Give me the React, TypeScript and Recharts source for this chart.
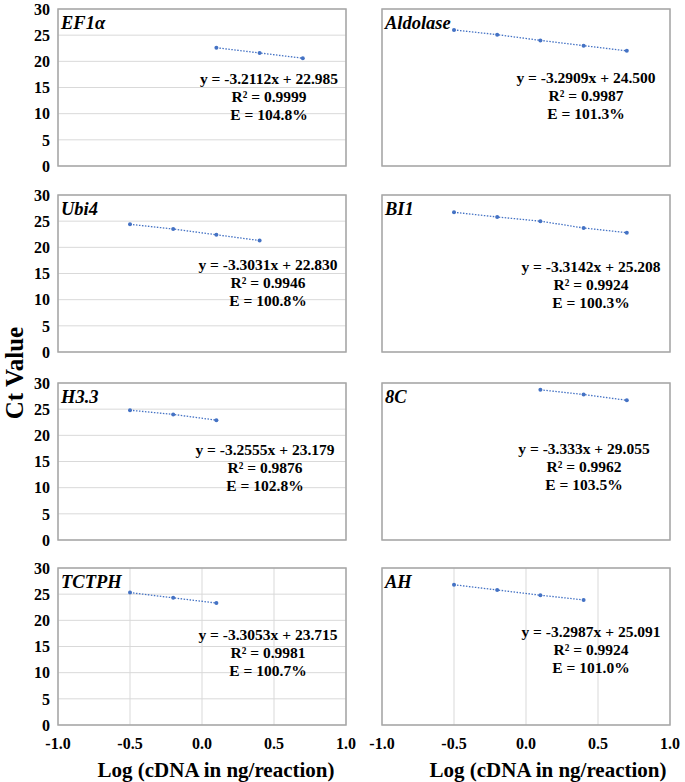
import React from "react";
import {
  LineChart,
  Line,
  XAxis,
  YAxis,
  CartesianGrid,
  ReferenceArea,
} from "recharts";

// ---------- data ----------
const xTicks = [-1, -0.5, 0, 0.5, 1];
const yTicks = [0, 5, 10, 15, 20, 25, 30];

const ef1aX = [0.1, 0.4, 0.7];
const ef1aY = [22.6, 21.6, 20.6];
const ef1aEq = ["y = -3.2112x + 22.985", "R² = 0.9999", "E = 104.8%"];

const aldolaseX = [-0.5, -0.2, 0.1, 0.4, 0.7];
const aldolaseY = [26.0, 25.1, 24.0, 23.0, 22.0];
const aldolaseEq = ["y = -3.2909x + 24.500", "R² = 0.9987", "E = 101.3%"];

const ubi4X = [-0.5, -0.2, 0.1, 0.4];
const ubi4Y = [24.4, 23.5, 22.4, 21.3];
const ubi4Eq = ["y = -3.3031x + 22.830", "R² = 0.9946", "E = 100.8%"];

const bi1X = [-0.5, -0.2, 0.1, 0.4, 0.7];
const bi1Y = [26.7, 25.8, 25.0, 23.7, 22.8];
const bi1Eq = ["y = -3.3142x + 25.208", "R² = 0.9924", "E = 100.3%"];

const h33X = [-0.5, -0.2, 0.1];
const h33Y = [24.8, 24.0, 22.9];
const h33Eq = ["y = -3.2555x + 23.179", "R² = 0.9876", "E = 102.8%"];

const c8X = [0.1, 0.4, 0.7];
const c8Y = [28.7, 27.8, 26.7];
const c8Eq = ["y = -3.333x + 29.055", "R² = 0.9962", "E = 103.5%"];

const tctphX = [-0.5, -0.2, 0.1];
const tctphY = [25.3, 24.3, 23.3];
const tctphEq = ["y = -3.3053x + 23.715", "R² = 0.9981", "E = 100.7%"];

const ahX = [-0.5, -0.2, 0.1, 0.4];
const ahY = [26.8, 25.8, 24.8, 23.9];
const ahEq = ["y = -3.2987x + 25.091", "R² = 0.9924", "E = 101.0%"];

const geneNames = ["EF1α", "Aldolase", "Ubi4", "BI1", "H3.3", "8C", "TCTPH", "AH"];
const xTitle = "Log (cDNA in ng/reaction)";
const yTitle = "Ct Value";

// ---------- layout ----------
const FONT = "'Liberation Serif', 'Times New Roman', serif";
const LINE_COLOR = "#4472C4";
const rowTops = [9, 195, 383, 568];
const rowHeights = [157, 157, 157, 157];
const LEFT_PLOT_X = 58;
const RIGHT_PLOT_X = 382;
const PLOT_W = 288;

type PanelDef = {
  name: string;
  xs: number[];
  ys: number[];
  eq: string[];
  col: 0 | 1;
  row: number;
  annX: number;
  annY: number;
};

const panels: PanelDef[] = [
  { name: geneNames[0], xs: ef1aX, ys: ef1aY, eq: ef1aEq, col: 0, row: 0, annX: 211, annY: 70 },
  { name: geneNames[1], xs: aldolaseX, ys: aldolaseY, eq: aldolaseEq, col: 1, row: 0, annX: 204, annY: 69 },
  { name: geneNames[2], xs: ubi4X, ys: ubi4Y, eq: ubi4Eq, col: 0, row: 1, annX: 210, annY: 70 },
  { name: geneNames[3], xs: bi1X, ys: bi1Y, eq: bi1Eq, col: 1, row: 1, annX: 209, annY: 72 },
  { name: geneNames[4], xs: h33X, ys: h33Y, eq: h33Eq, col: 0, row: 2, annX: 207, annY: 67 },
  { name: geneNames[5], xs: c8X, ys: c8Y, eq: c8Eq, col: 1, row: 2, annX: 202, annY: 66 },
  { name: geneNames[6], xs: tctphX, ys: tctphY, eq: tctphEq, col: 0, row: 3, annX: 210, annY: 67 },
  { name: geneNames[7], xs: ahX, ys: ahY, eq: ahEq, col: 1, row: 3, annX: 209, annY: 64 },
];

const tickStyle = { fill: "#000", fontSize: 16, fontWeight: 700, fontFamily: FONT };

function Panel({ p }: { p: PanelDef }) {
  const data = p.xs.map((x, i) => ({ x, y: p.ys[i] }));
  const isBottom = p.row === 3;
  const plotTop = rowTops[p.row];
  const plotH = rowHeights[p.row];
  const marginTop = 9;
  const axisH = isBottom ? 36 : 0;
  const chartLeft = p.col === 0 ? 0 : 350;
  const yAxisW = p.col === 0 ? LEFT_PLOT_X : RIGHT_PLOT_X - 350;
  const chartW = yAxisW + PLOT_W + 16;
  const chartH = marginTop + plotH + axisH + 10;
  const plotLeft = chartLeft + yAxisW;

  return (
    <>
      <div style={{ position: "absolute", left: chartLeft, top: plotTop - marginTop }}>
        <LineChart
          width={chartW}
          height={chartH}
          data={data}
          margin={{ top: marginTop, right: 16, left: 0, bottom: 10 }}
        >
          <CartesianGrid stroke="#d9d9d9" strokeWidth={1} />
          <XAxis
            type="number"
            dataKey="x"
            domain={[-1, 1]}
            ticks={xTicks}
            interval={0}
            allowDataOverflow
            tickFormatter={(v: number) => v.toFixed(1)}
            axisLine={false}
            tickLine={false}
            tick={isBottom ? tickStyle : false}
            tickMargin={7}
            height={axisH}
          />
          <YAxis
            type="number"
            domain={[0, 30]}
            ticks={yTicks}
            interval={0}
            allowDataOverflow
            axisLine={false}
            tickLine={false}
            tick={p.col === 0 ? tickStyle : false}
            width={yAxisW}
          />
          <ReferenceArea
            x1={-1}
            x2={1}
            y1={0}
            y2={30}
            fill="none"
            fillOpacity={0}
            stroke="#a6a6a6"
            strokeWidth={1.5}
            ifOverflow="visible"
          />
          <Line
            type="linear"
            dataKey="y"
            stroke={LINE_COLOR}
            strokeWidth={1.3}
            strokeDasharray="1.5 1.5"
            dot={{ r: 2, fill: LINE_COLOR, stroke: LINE_COLOR, strokeWidth: 0 }}
            activeDot={false}
            isAnimationActive={false}
          />
        </LineChart>
      </div>
      <div
        style={{
          position: "absolute",
          left: plotLeft + 3,
          top: plotTop + 4.5,
          fontSize: 18.5,
          lineHeight: 1,
          fontWeight: 700,
          fontStyle: "italic",
          whiteSpace: "nowrap",
        }}
      >
        {p.name}
      </div>
      {p.eq.map((t, i) => (
        <div
          key={i}
          style={{
            position: "absolute",
            left: plotLeft + p.annX,
            top: plotTop + p.annY + i * 18 - 7.8,
            transform: "translateX(-50%)",
            fontSize: 15.5,
            lineHeight: 1,
            fontWeight: 700,
            whiteSpace: "nowrap",
          }}
        >
          {t}
        </div>
      ))}
    </>
  );
}

export default function App() {
  return (
    <div
      style={{
        position: "absolute",
        left: 0,
        top: 0,
        width: 685,
        height: 782,
        background: "#fff",
        fontFamily: FONT,
        color: "#000",
        overflow: "hidden",
      }}
    >
      {panels.map((p) => (
        <Panel key={p.name} p={p} />
      ))}
      <div
        style={{
          position: "absolute",
          left: 15,
          top: 373,
          transform: "translate(-50%, -50%) rotate(-90deg)",
          fontSize: 25,
          fontWeight: 700,
          whiteSpace: "nowrap",
          lineHeight: 1.2,
        }}
      >
        {yTitle}
      </div>
      {[216, 548].map((cx) => (
        <div
          key={cx}
          style={{
            position: "absolute",
            left: cx,
            top: 770,
            transform: "translate(-50%, -50%)",
            fontSize: 21,
            fontWeight: 700,
            whiteSpace: "nowrap",
            lineHeight: 1,
          }}
        >
          {xTitle}
        </div>
      ))}
    </div>
  );
}
